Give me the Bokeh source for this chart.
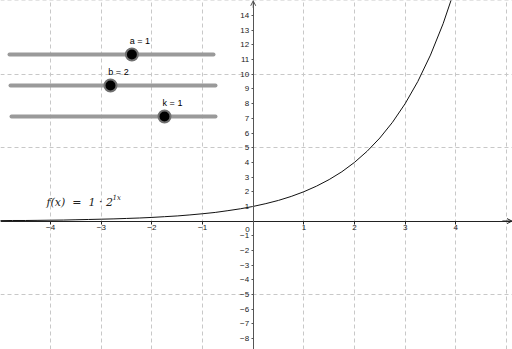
from bokeh.plotting import figure
from bokeh.models import (LinearAxis, FixedTicker, Grid, Label, Arrow, OpenHead,
                          ColumnDataSource)
from bokeh.core.properties import value
from bokeh.embed import file_html
from bokeh.resources import INLINE

# ---- data ----
curve_x = [-5, -4.75, -4.5, -4.25, -4, -3.75, -3.5, -3.25, -3, -2.75, -2.5, -2.25,
           -2, -1.75, -1.5, -1.25, -1, -0.75, -0.5, -0.25, 0, 0.25, 0.5, 0.75,
           1, 1.25, 1.5, 1.75, 2, 2.25, 2.5, 2.75, 3, 3.25, 3.5, 3.75, 4]
curve_y = [0.03, 0.04, 0.04, 0.05, 0.06, 0.07, 0.09, 0.11, 0.13, 0.15, 0.18, 0.21,
           0.25, 0.30, 0.35, 0.42, 0.5, 0.59, 0.71, 0.84, 1, 1.19, 1.41, 1.68,
           2, 2.38, 2.83, 3.36, 4, 4.76, 5.66, 6.73, 8, 9.51, 11.31, 13.45, 16]

x_ticks = [-4, -3, -2, -1, 1, 2, 3, 4]
y_ticks = [-8, -7, -6, -5, -4, -3, -2, -1, 1, 2, 3, 4, 5, 6, 7, 8, 9, 10, 11, 12, 13, 14]
x_grid = [-5, -4, -3, -2, -1, 0, 1, 2, 3, 4, 5]
y_grid = [-10, -5, 0, 5, 10, 15]

slider_names = ["a", "b", "k"]
slider_values = [1, 2, 1]
slider_min = [-5, 0, -2]
slider_max = [5, 4.1, 2]

formula_main = "f(x)\u00a0\u00a0=\u00a0\u00a01\u00a0·\u00a02"
formula_sup = "1x"

# ---- layout ----
W, H = 512, 349
x0, x1 = -4.99, 5.12
y0, y1 = -8.75, 15.03


def px_x(px):
    return x0 + px / W * (x1 - x0)


def px_y(py):
    return y1 - py / H * (y1 - y0)


p = figure(width=W, height=H, x_range=(x0, x1), y_range=(y0, y1),
           output_backend="svg", toolbar_location=None,
           x_axis_type=None, y_axis_type=None, min_border=0,
           background_fill_color="white", border_fill_color="white",
           outline_line_color=None)

# grids
gx = Grid(dimension=0, ticker=FixedTicker(ticks=x_grid), grid_line_color="#c8c8c8",
          grid_line_dash="4 3", grid_line_width=1)
gy = Grid(dimension=1, ticker=FixedTicker(ticks=y_grid), grid_line_color="#c8c8c8",
          grid_line_dash="4 3", grid_line_width=1)
p.add_layout(gx)
p.add_layout(gy)

# axes through origin
xa = LinearAxis(ticker=FixedTicker(ticks=x_ticks), fixed_location=0,
                axis_line_color="#222222", axis_line_width=1.2,
                major_tick_line_color="#222222", major_tick_in=0, major_tick_out=3,
                minor_tick_line_color=None, major_label_standoff=1,
                major_label_text_font="Liberation Sans", major_label_text_font_size="8px",
                major_label_text_color="#222222")
ya = LinearAxis(ticker=FixedTicker(ticks=y_ticks), fixed_location=0,
                axis_line_color="#555555", axis_line_width=1,
                major_tick_line_color="#555555", major_tick_in=0, major_tick_out=2,
                minor_tick_line_color=None, major_label_standoff=2,
                major_label_text_font="Liberation Sans", major_label_text_font_size="8px",
                major_label_text_color="#222222")
p.add_layout(xa, "below")
p.add_layout(ya, "left")

p.add_layout(Label(x=0, y=0, text="0", x_offset=-8, y_offset=-11,
                   text_font="Liberation Sans", text_font_size="8px", text_color="#222222"))

# arrow heads
p.add_layout(Arrow(end=OpenHead(size=5, line_color="#222222", line_width=1),
                   x_start=x1 - 0.2, y_start=0, x_end=x1 - 0.01, y_end=0,
                   line_color="#222222", line_width=1.2))
p.add_layout(Arrow(end=OpenHead(size=5, line_color="#555555", line_width=1),
                   x_start=0, y_start=y1 - 0.5, x_end=0, y_end=y1 - 0.02,
                   line_color="#555555", line_width=1))

# curve
p.line(curve_x, curve_y, line_color="#111111", line_width=1)

# formula
p.add_layout(Label(x=px_x(46), y=px_y(208), text=formula_main,
                   text_font="DejaVu Serif", text_font_style="italic",
                   text_font_size="11px", text_color="#222222"))
p.add_layout(Label(x=px_x(112), y=px_y(201), text=formula_sup,
                   text_font="DejaVu Serif", text_font_style="italic",
                   text_font_size="7px", text_color="#222222"))

# sliders
slider_left = [9, 10, 11]
slider_right = [213, 215, 215]
slider_row = [54, 85, 116]
sx0 = [px_x(v) for v in slider_left]
sx1 = [px_x(v) for v in slider_right]
sy = [px_y(v) for v in slider_row]
dot_x = [a + (v - mn) / (mx - mn) * (b - a)
         for a, b, v, mn, mx in zip(sx0, sx1, slider_values, slider_min, slider_max)]
labels = [f"{n} = {v}" for n, v in zip(slider_names, slider_values)]

src = ColumnDataSource(dict(x0=sx0, x1=sx1, y=sy, dx=dot_x, lab=labels))
p.segment(x0="x0", y0="y", x1="x1", y1="y", source=src, line_color="#9a9a9a",
          line_width=4, line_cap="round")
p.scatter(x="dx", y="y", source=src, size=12, fill_color="black",
          line_color="#707070", line_width=2)
p.text(x="dx", y="y", text="lab", source=src, x_offset=8, y_offset=-9,
       text_align="center", text_baseline="bottom", text_font_size="9px",
       text_font=value("Liberation Sans"), text_color="black")

open("out.html", "w").write(file_html(p, INLINE))
